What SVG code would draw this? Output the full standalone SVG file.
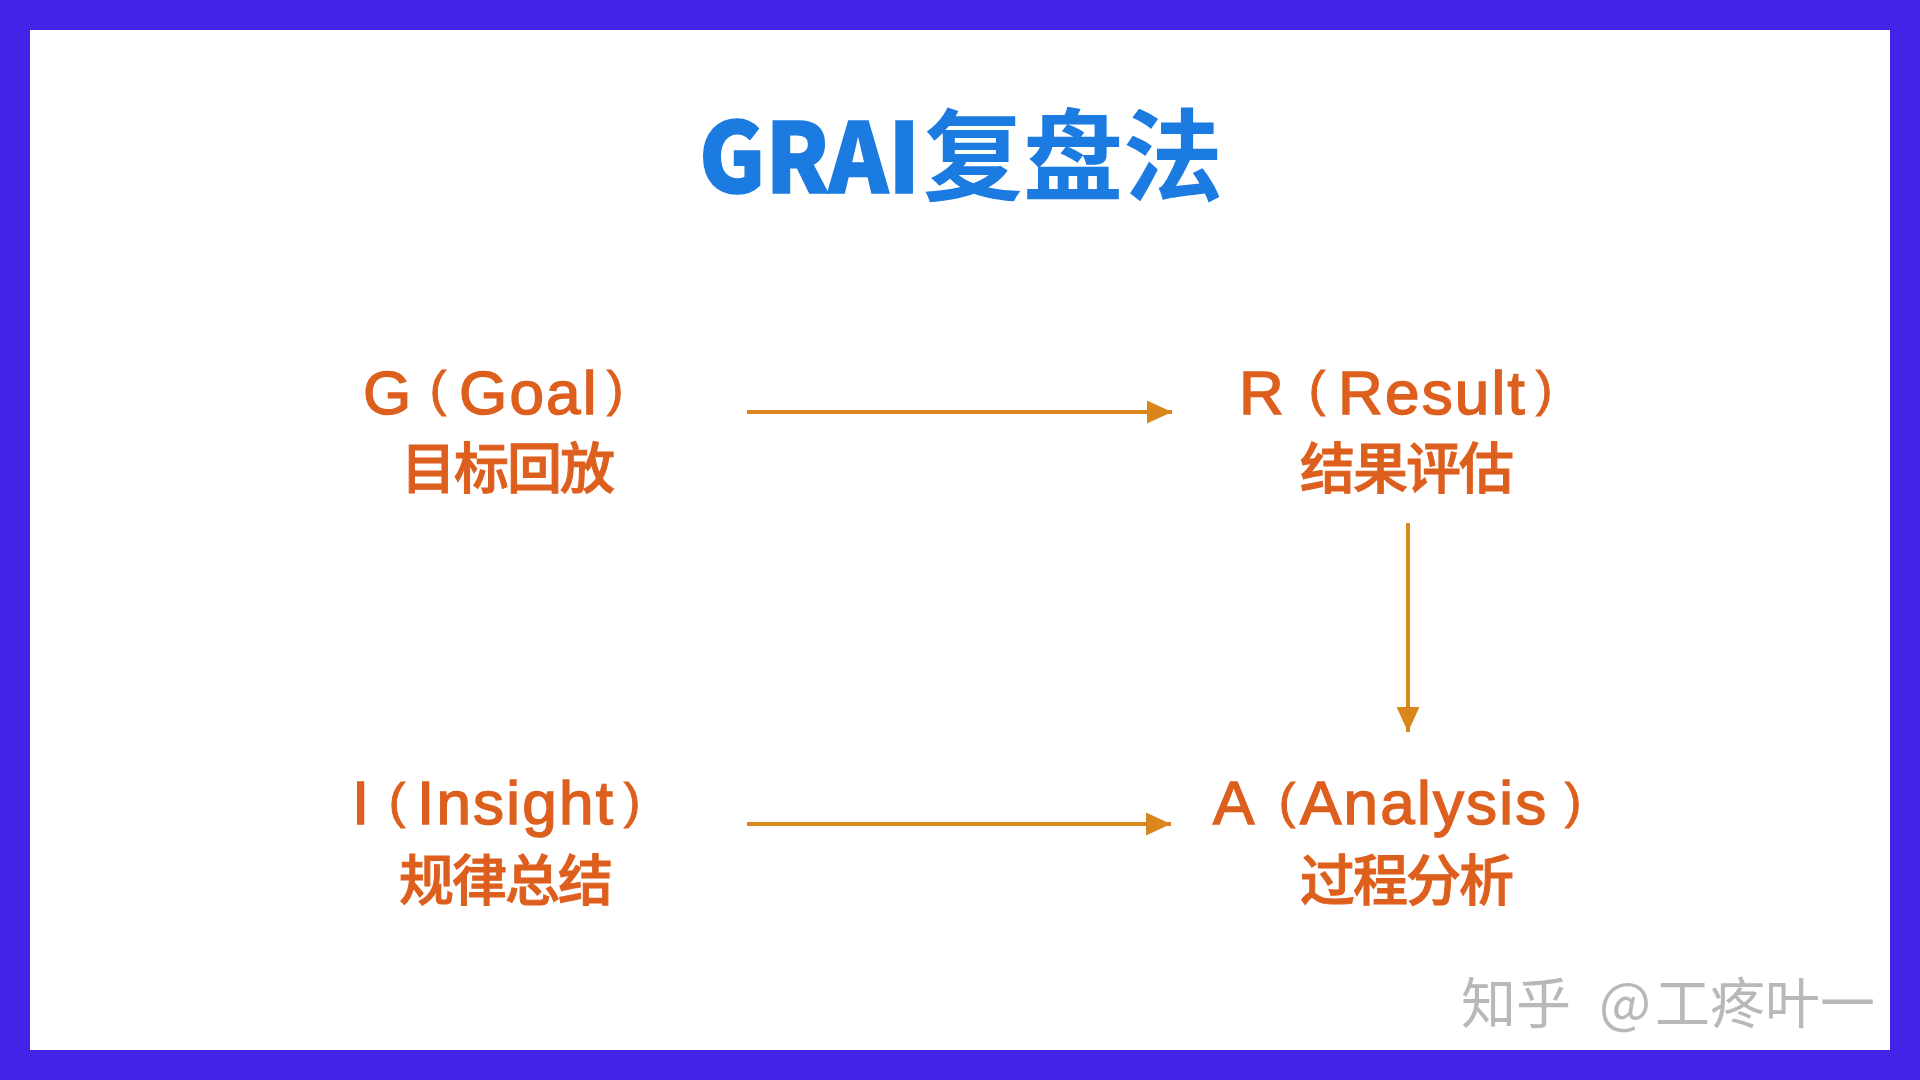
<svg xmlns="http://www.w3.org/2000/svg" width="1920" height="1080" viewBox="0 0 1920 1080">
  <defs>
    <style>
      .lat { font-family: "Liberation Sans", Arial, "Noto Sans CJK SC", sans-serif; font-size: 62px; fill: #DD5F1E; stroke: #DD5F1E; stroke-width: 1.5px; letter-spacing: 2.2px; }
      .par { font-family: "Liberation Sans", Arial, sans-serif; font-size: 50px; fill: #DD5F1E; stroke: #DD5F1E; stroke-width: 1px; text-anchor: middle; letter-spacing: 0; }
      .cjk { font-family: "Noto Sans CJK SC", sans-serif; font-size: 55px; font-weight: 500; fill: #DD5F1E; stroke: #DD5F1E; stroke-width: 1px; letter-spacing: -2px; }
      .conn { stroke: #D9861C; stroke-width: 4; fill: none; }
    </style>
    <marker id="ah" markerUnits="userSpaceOnUse" markerWidth="25" markerHeight="23" refX="25" refY="11.5" orient="auto">
      <path d="M0,0 L25,11.5 L0,23 Z" fill="#D9861C"/>
    </marker>
  </defs>

  <rect x="0" y="0" width="1920" height="1080" fill="#4423E8"/>
  <rect x="30" y="30" width="1860" height="1020" fill="#FFFFFF"/>

  <g id="title">
    <text x="699" y="193" font-family="'Noto Sans CJK SC', sans-serif" font-size="97" font-weight="900" fill="#1B7BE0" stroke="#1B7BE0" stroke-width="1.5" textLength="221" lengthAdjust="spacingAndGlyphs">GRAI</text>
    <text x="923" y="193" font-family="'Noto Sans CJK SC', sans-serif" font-size="100" font-weight="700" fill="#1B7BE0">复盘法</text>
  </g>

  <g id="connectors">
    <line class="conn" x1="747" y1="412" x2="1172" y2="412" marker-end="url(#ah)"/>
    <line class="conn" x1="1408" y1="523" x2="1408" y2="732" marker-end="url(#ah)"/>
    <line class="conn" x1="747" y1="824" x2="1171" y2="824" marker-end="url(#ah)"/>
  </g>

  <g id="node-g">
    <text class="lat" y="414"><tspan x="363">G</tspan><tspan x="459">Goal</tspan></text>
    <text class="par" y="406"><tspan x="438">(</tspan><tspan x="615">)</tspan></text>
    <text class="cjk" x="401" y="488">目标回放</text>
  </g>

  <g id="node-r">
    <text class="lat" y="414"><tspan x="1239">R</tspan><tspan x="1338">Result</tspan></text>
    <text class="par" y="406"><tspan x="1317">(</tspan><tspan x="1544">)</tspan></text>
    <text class="cjk" x="1300" y="488">结果评估</text>
  </g>

  <g id="node-i">
    <text class="lat" y="824"><tspan x="352">I</tspan><tspan x="417">Insight</tspan></text>
    <text class="par" y="818"><tspan x="397">(</tspan><tspan x="632">)</tspan></text>
    <text class="cjk" x="399" y="900">规律总结</text>
  </g>

  <g id="node-a">
    <text class="lat" y="824"><tspan x="1213">A</tspan><tspan x="1300">Analysis</tspan></text>
    <text class="par" y="818"><tspan x="1287">(</tspan><tspan x="1573">)</tspan></text>
    <text class="cjk" x="1300" y="900">过程分析</text>
  </g>

  <g id="watermark" font-family="'Noto Sans CJK SC', sans-serif" font-size="55" fill="#B8B8B8">
    <text y="1023"><tspan x="1461">知乎</tspan><tspan x="1599">@</tspan><tspan x="1655">工疼叶一</tspan></text>
  </g>
</svg>
